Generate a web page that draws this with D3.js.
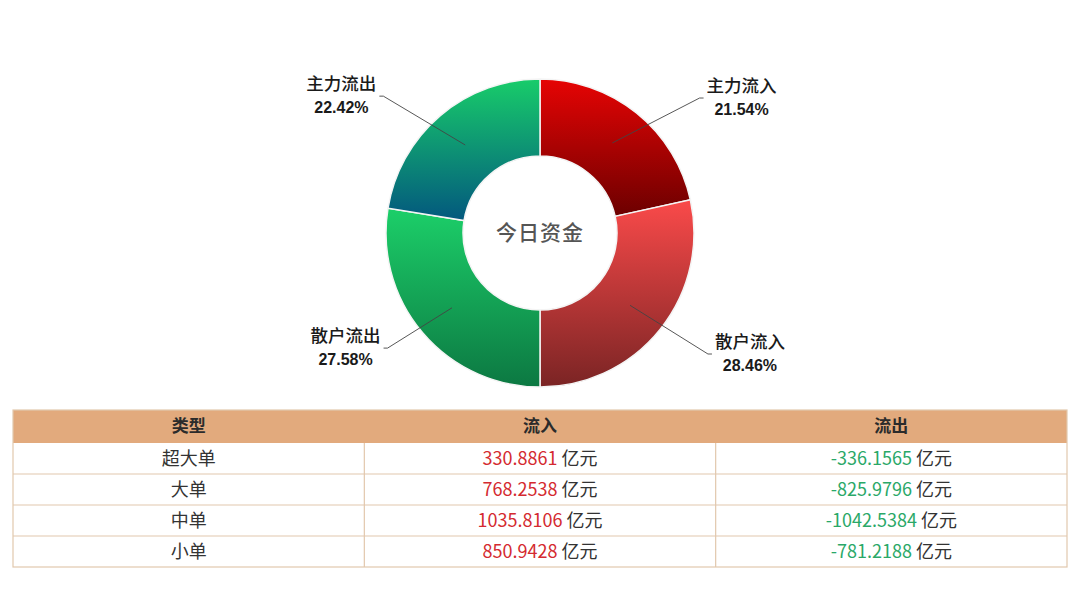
<!DOCTYPE html>
<html lang="zh">
<head>
<meta charset="UTF-8">
<title>今日资金</title>
<script src="https://cdn.jsdelivr.net/npm/d3@7"></script>
<style>
  body { margin: 0; background: #fff; }
  svg { display: block; font-family: "Noto Sans CJK SC", sans-serif; }
</style>
</head>
<body>
<script>
// donut data (clockwise from 12 o'clock)
let sliceNames = ['主力流入', '散户流入', '散户流出', '主力流出'];
let slicePct = [21.54, 28.46, 27.58, 22.42];

// table data
let headers = ['类型', '流入', '流出'];
let categories = ['超大单', '大单', '中单', '小单'];
let inflow = [330.8861, 768.2538, 1035.8106, 850.9428];
let outflow = [-336.1565, -825.9796, -1042.5384, -781.2188];
let unit = '亿元';

let width = 1080;
let height = 607;
let cx = 540, cy = 233;
let outerR = 154, innerR = 77;

// gradient stops top -> bottom per slice
let gradStops = [
  ['#e60404', '#6c0000'],
  ['#fa4a4a', '#7a2424'],
  ['#1ccf69', '#0c7842'],
  ['#18cc6a', '#03587e']
];
// label elbow layout: angle nudge (deg), radius
let labelNudge = [11, -3, 3.3, -8.5];
let labelRad = [209, 207, 191, 208];

let svg = d3.select('body')
  .append('svg')
  .attr('width', width)
  .attr('height', height);

let defs = svg.append('defs');
gradStops.forEach(function (s, i) {
  let g = defs.append('linearGradient')
    .attr('id', 'g' + i)
    .attr('x1', 0).attr('y1', 0).attr('x2', 0).attr('y2', 1);
  g.append('stop').attr('offset', '0%').attr('stop-color', s[0]);
  g.append('stop').attr('offset', '100%').attr('stop-color', s[1]);
});

let pie = d3.pie().sort(null).value(function (d) { return d; });
let arcs = pie(slicePct);
let arc = d3.arc().innerRadius(innerR).outerRadius(outerR);

let donut = svg.append('g')
  .attr('transform', 'translate(' + cx + ',' + cy + ')');

donut.selectAll('path.slice')
  .data(arcs)
  .enter()
  .append('path')
  .attr('class', 'slice')
  .attr('d', arc)
  .attr('fill', function (d, i) { return 'url(#g' + i + ')'; })
  .attr('stroke', '#f4f4f4')
  .attr('stroke-width', 1.5);

donut.append('text')
  .attr('text-anchor', 'middle')
  .attr('dy', '0.35em')
  .attr('font-size', 21)
  .attr('fill', '#555')
  .attr('font-weight', 500)
  .attr('letter-spacing', 1)
  .text('今日资金');

// leader lines + labels
function polar(angle, r) {
  return [r * Math.sin(angle), -r * Math.cos(angle)];
}

arcs.forEach(function (d, i) {
  let mid = (d.startAngle + d.endAngle) / 2;
  let p0 = polar(mid, (innerR + outerR) / 2);
  let p1 = polar(mid + labelNudge[i] * Math.PI / 180, labelRad[i]);
  let right = p1[0] > 0;
  let p2 = [p1[0] + (right ? 4 : -4), p1[1]];

  donut.append('polyline')
    .attr('points', [p0, p1, p2].map(function (p) { return p.join(','); }).join(' '))
    .attr('fill', 'none')
    .attr('stroke', '#444')
    .attr('stroke-width', 0.9);

  let tx = p1[0] + (right ? 42 : -42);
  let lab = donut.append('g').attr('transform', 'translate(' + tx + ',' + p1[1] + ')');
  lab.append('text')
    .attr('text-anchor', 'middle')
    .attr('y', -12)
    .attr('dy', '0.35em')
    .attr('font-size', 17.5)
    .attr('font-weight', 500)
    .attr('fill', '#1a1a1a')
    .text(sliceNames[i]);
  lab.append('text')
    .attr('text-anchor', 'middle')
    .attr('y', 11)
    .attr('dy', '0.35em')
    .attr('font-size', 16)
    .attr('font-weight', 'bold')
    .attr('font-family', '"Liberation Sans", Arial, sans-serif')
    .attr('fill', '#1a1a1a')
    .text(slicePct[i].toFixed(2) + '%');
});

// table
let tableLeft = 13, tableRight = 1067;
let headTop = 410, headBottom = 443, tableBottom = 567;
let border = '#e2c8ad';

let x = d3.scaleBand()
  .domain(headers)
  .range([tableLeft, tableRight]);
let y = d3.scaleBand()
  .domain(categories)
  .range([headBottom, tableBottom]);

let table = svg.append('g').attr('class', 'table');

table.append('rect')
  .attr('x', tableLeft)
  .attr('y', headTop)
  .attr('width', tableRight - tableLeft)
  .attr('height', headBottom - headTop)
  .attr('fill', '#e2aa7d');

table.selectAll('text.head')
  .data(headers)
  .enter()
  .append('text')
  .attr('class', 'head')
  .attr('x', function (d) { return x(d) + x.bandwidth() / 2; })
  .attr('y', (headTop + headBottom) / 2)
  .attr('dy', '0.35em')
  .attr('text-anchor', 'middle')
  .attr('font-size', 17)
  .attr('font-weight', 'bold')
  .attr('fill', '#2b2b2b')
  .text(function (d) { return d; });

// row lines
table.selectAll('line.row')
  .data(categories.slice(1))
  .enter()
  .append('line')
  .attr('class', 'row')
  .attr('x1', tableLeft).attr('x2', tableRight)
  .attr('y1', function (d) { return y(d); })
  .attr('y2', function (d) { return y(d); })
  .attr('stroke', border)
  .attr('stroke-width', 1.2);

// column dividers
table.selectAll('line.col')
  .data(headers.slice(1))
  .enter()
  .append('line')
  .attr('class', 'col')
  .attr('x1', function (d) { return x(d); })
  .attr('x2', function (d) { return x(d); })
  .attr('y1', headBottom).attr('y2', tableBottom)
  .attr('stroke', border)
  .attr('stroke-width', 1.2);

table.append('rect')
  .attr('x', tableLeft)
  .attr('y', headTop)
  .attr('width', tableRight - tableLeft)
  .attr('height', tableBottom - headTop)
  .attr('fill', 'none')
  .attr('stroke', border)
  .attr('stroke-width', 1.2);

let rows = table.selectAll('g.tr')
  .data(categories)
  .enter()
  .append('g')
  .attr('class', 'tr')
  .attr('transform', function (d) { return 'translate(0,' + (y(d) + y.bandwidth() / 2) + ')'; });

rows.append('text')
  .attr('x', x('类型') + x.bandwidth() / 2)
  .attr('dy', '0.35em')
  .attr('text-anchor', 'middle')
  .attr('font-size', 18)
  .attr('fill', '#333')
  .text(function (d) { return d; });

function valueCell(sel, col, values, color) {
  let t = sel.append('text')
    .attr('x', x(col) + x.bandwidth() / 2)
    .attr('dy', '0.35em')
    .attr('text-anchor', 'middle')
    .attr('font-size', 18);
  t.append('tspan')
    .attr('fill', color)
    .text(function (d, i) { return values[i].toFixed(4); });
  t.append('tspan')
    .attr('fill', '#333')
    .text(' ' + unit);
}

valueCell(rows, '流入', inflow, '#d42a30');
valueCell(rows, '流出', outflow, '#2aa868');
</script>
</body>
</html>
